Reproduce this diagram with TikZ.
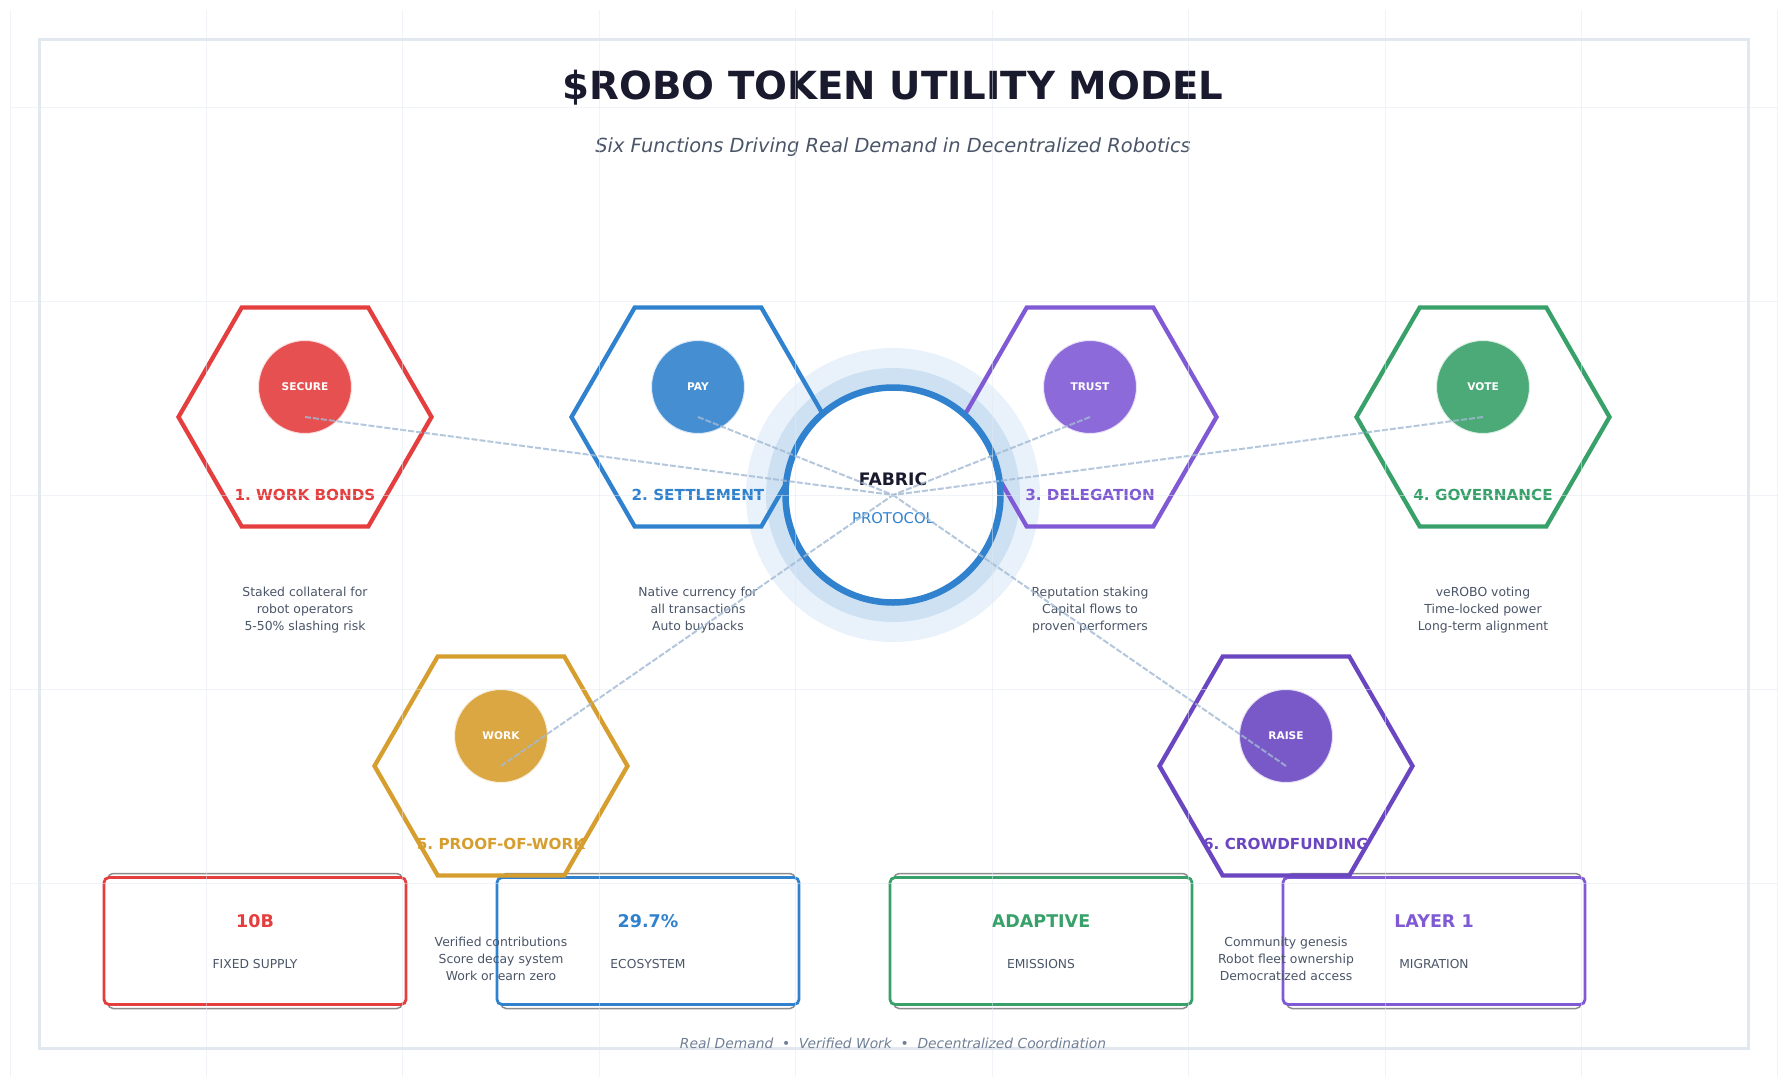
\documentclass[tikz,border=0pt]{standalone}
\usepackage{fontspec}
\setmainfont{DejaVu Sans}
\usepackage{tikz}
\usetikzlibrary{shapes.geometric, positioning}
\definecolor{cRed}{HTML}{E53E3E}
\definecolor{cBlue}{HTML}{3182CE}
\definecolor{cPurple}{HTML}{805AD5}
\definecolor{cGreen}{HTML}{38A169}
\definecolor{cGold}{HTML}{D69E2E}
\definecolor{cViolet}{HTML}{6B46C1}
\definecolor{cInk}{HTML}{1A1A2E}
\definecolor{cText}{HTML}{4A5568}
\definecolor{cMuted}{HTML}{718096}
\definecolor{cFrame}{HTML}{E2E8F0}
\definecolor{cLink}{HTML}{A3BAD4}
\frenchspacing

\begin{document}
\begin{tikzpicture}[x=1pt, y=-1pt,
    hexcell/.style={regular polygon, regular polygon sides=6, minimum size=253pt, inner sep=0pt, line width=4.3pt},
    badge/.style={circle, minimum size=94pt, inner sep=0pt, draw=white, draw opacity=.8, line width=2pt, fill opacity=.9, text opacity=1, text=white, font=\bfseries\fontsize{10.6}{12}\selectfont},
    halo/.style={circle, inner sep=0pt, fill=cBlue},
    hub/.style={circle, minimum size=215pt, inner sep=0pt, draw=cBlue, fill=white, line width=6.5pt},
    lbl/.style={anchor=base, inner sep=0pt, font=\bfseries\fontsize{15.2}{18}\selectfont},
    desc/.style={align=center, inner sep=0pt, text=cText, font=\fontsize{12.4}{17}\selectfont},
    link/.style={cLink, line width=2pt, dash pattern=on 6pt off 2pt, opacity=.8},
    statbox/.style={rectangle, rounded corners=5pt, minimum width=302pt, minimum height=127pt, line width=2.8pt, fill=white},
    statshadow/.style={rectangle, rounded corners=5pt, minimum width=294pt, minimum height=135pt, draw=black!45, line width=1.5pt},
    statnum/.style={inner sep=0pt, font=\bfseries\fontsize{17.5}{20}\selectfont},
    statlbl/.style={inner sep=0pt, text=cText, font=\fontsize{12.3}{15}\selectfont},
    gridline/.style={cFrame, line width=1pt, opacity=.5},
    frameline/.style={cFrame, line width=3pt}]
\fill[white] (0,0) rectangle (1787,1087);
\useasboundingbox (0,0) rectangle (1787,1087);
\draw[frameline] (39,39) rectangle (1748,1048);
% title
\node[anchor=base, inner sep=0pt, text=cInk, font=\bfseries\fontsize{38.7}{46}\selectfont] (title) at (893,99) {\$ROBO TOKEN UTILITY MODEL};
\node[anchor=base, inner sep=0pt, text=cText, font=\itshape\fontsize{19.4}{23}\selectfont] (subtitle) at (893,152) {Six Functions Driving Real Demand in Decentralized Robotics};
% glow behind the protocol hub
\node[halo, minimum size=294pt, fill opacity=.1] (haloOut) at (893,495) {};
\node[halo, minimum size=254pt, fill opacity=.15] (haloIn) at (893,495) {};
% key figures
\node[statshadow] (supplyShd) at (255,941) {};
\node[statshadow] (ecoShd) at (648,941) {};
\node[statshadow] (emitShd) at (1041,941) {};
\node[statshadow] (layerShd) at (1434,941) {};
\node[statbox, draw=cRed] (supply) at (255,941) {};
\node[statbox, draw=cBlue] (eco) at (648,941) {};
\node[statbox, draw=cGreen] (emit) at (1041,941) {};
\node[statbox, draw=cPurple] (layer) at (1434,941) {};
\node[statnum, text=cRed] (supplyNum) at (255,921) {10B};
\node[statnum, text=cBlue] (ecoNum) at (648,921) {29.7\%};
\node[statnum, text=cGreen] (emitNum) at (1041,921) {ADAPTIVE};
\node[statnum, text=cPurple] (layerNum) at (1434,921) {LAYER 1};
\node[statlbl] (supplyLbl) at (255,964) {FIXED SUPPLY};
\node[statlbl] (ecoLbl) at (648,964) {ECOSYSTEM};
\node[statlbl] (emitLbl) at (1041,964) {EMISSIONS};
\node[statlbl] (layerLbl) at (1434,964) {MIGRATION};
% function labels and notes
\node[lbl, text=cRed] (bondsLbl) at (305,500) {1. WORK BONDS};
\node[lbl, text=cBlue] (settleLbl) at (698,500) {2. SETTLEMENT};
\node[lbl, text=cPurple] (delegLbl) at (1090,500) {3. DELEGATION};
\node[lbl, text=cGreen] (governLbl) at (1483,500) {4. GOVERNANCE};
\node[lbl, text=cGold] (proofLbl) at (501,849) {5. PROOF-OF-WORK};
\node[lbl, text=cViolet] (crowdLbl) at (1286,849) {6. CROWDFUNDING};
\node[desc] (bondsTxt) at (305,610) {Staked collateral for\\robot operators\\5-50\% slashing risk};
\node[desc] (settleTxt) at (698,610) {Native currency for\\all transactions\\Auto buybacks};
\node[desc] (delegTxt) at (1090,610) {Reputation staking\\Capital flows to\\proven performers};
\node[desc] (governTxt) at (1483,610) {veROBO voting\\Time-locked power\\Long-term alignment};
\node[desc] (proofTxt) at (501,959) {Verified contributions\\Score decay system\\Work or earn zero};
\node[desc] (crowdTxt) at (1286,959) {Community genesis\\Robot fleet ownership\\Democratized access};
% hexagons
\node[hexcell, draw=cRed] (bonds) at (305,417) {};
\node[hexcell, draw=cBlue] (settle) at (698,417) {};
\node[hexcell, draw=cPurple] (deleg) at (1090,417) {};
\node[hexcell, draw=cGreen] (govern) at (1483,417) {};
\node[hexcell, draw=cGold] (proof) at (501,766) {};
\node[hexcell, draw=cViolet] (crowd) at (1286,766) {};
\node[badge, fill=cRed] (secure) at (305,387) {SECURE};
\node[badge, fill=cBlue] (pay) at (698,387) {PAY};
\node[badge, fill=cPurple] (trust) at (1090,387) {TRUST};
\node[badge, fill=cGreen] (vote) at (1483,387) {VOTE};
\node[badge, fill=cGold] (work) at (501,736) {WORK};
\node[badge, fill=cViolet] (raise) at (1286,736) {RAISE};
% hub
\node[hub] (hub) at (893,495) {};
\node[inner sep=0pt, text=cInk, font=\bfseries\fontsize{17.2}{20}\selectfont] (hubTop) at (893,479) {FABRIC};
\node[inner sep=0pt, text=cBlue, font=\fontsize{14.8}{18}\selectfont] (hubBot) at (893,518) {PROTOCOL};
\draw[link] (bonds.center) -- (hub.center);
\draw[link] (settle.center) -- (hub.center);
\draw[link] (deleg.center) -- (hub.center);
\draw[link] (govern.center) -- (hub.center);
\draw[link] (proof.center) -- (hub.center);
\draw[link] (crowd.center) -- (hub.center);
\node[inner sep=0pt, text=cMuted, font=\itshape\fontsize{13.8}{16}\selectfont] (footer) at (893,1043) {Real Demand \ • \ Verified Work \ • \ Decentralized Coordination};
% faint grid on top
\foreach \gx in {0,...,9}
  \draw[gridline] ({10+196.44*\gx},10) -- ({10+196.44*\gx},1077);
\foreach \gy in {107,301,495,689,883}
  \draw[gridline] (10,\gy) -- (1778,\gy);
\end{tikzpicture}
\end{document}
